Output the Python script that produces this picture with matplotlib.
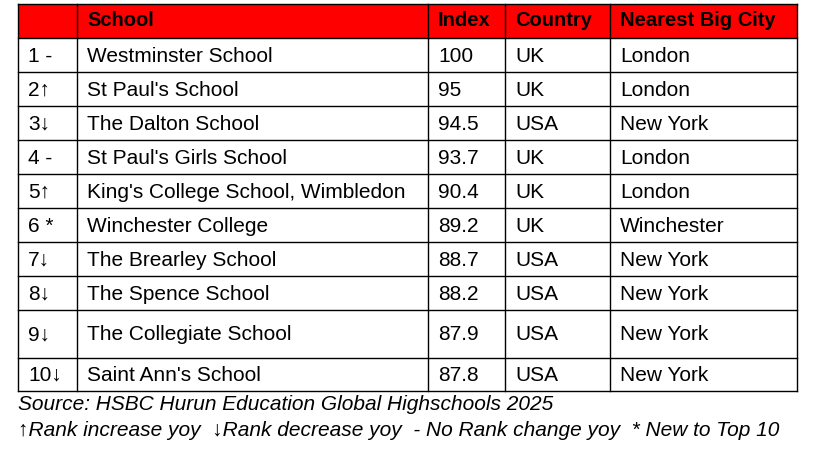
import matplotlib
matplotlib.use("Agg")
import matplotlib.pyplot as plt

ranks = ["1 -", "2↑", "3↓", "4 -", "5↑", "6 *", "7↓", "8↓", "9↓", "10↓"]
schools = ["Westminster School", "St Paul's School", "The Dalton School",
           "St Paul's Girls School", "King's College School, Wimbledon",
           "Winchester College", "The Brearley School", "The Spence School",
           "The Collegiate School", "Saint Ann's School"]
index = ["100", "95", "94.5", "93.7", "90.4", "89.2", "88.7", "88.2", "87.9", "87.8"]
country = ["UK", "UK", "USA", "UK", "UK", "UK", "USA", "USA", "USA", "USA"]
city = ["London", "London", "New York", "London", "London", "Winchester",
        "New York", "New York", "New York", "New York"]
headers = ["", "School", "Index", "Country", "Nearest Big City"]

W, H = 816, 453
fig = plt.figure(figsize=(W / 100, H / 100), dpi=100)
ax = fig.add_axes([0, 0, 1, 1])
ax.set_xlim(0, W)
ax.set_ylim(H, 0)
ax.axis("off")

FONT = ["Liberation Sans", "DejaVu Sans"]
FS = 15
col_x = [18, 77, 428, 505, 610, 797]
row_y = [4, 38, 72, 106, 140, 174, 208, 242, 276, 310, 358, 391]

ax.add_patch(plt.Rectangle((col_x[0], row_y[0]), col_x[-1] - col_x[0],
                           row_y[1] - row_y[0], color="#ff0000", lw=0))
for x in col_x:
    ax.plot([x, x], [row_y[0], row_y[-1]], color="black", lw=1)
for y in row_y:
    ax.plot([col_x[0], col_x[-1]], [y, y], color="black", lw=1)

for j, h in enumerate(headers):
    ax.text(col_x[j] + 10, (row_y[0] + row_y[1]) / 2, h, fontsize=FS - 0.5,
            fontweight="bold", va="center", ha="left", family=FONT)

for i in range(len(schools)):
    yc = (row_y[i + 1] + row_y[i + 2]) / 2 + 1
    for j, val in enumerate([ranks[i], schools[i], index[i], country[i], city[i]]):
        ax.text(col_x[j] + 10, yc, val, fontsize=FS, va="center", ha="left",
                family=FONT)

ax.text(18, 405, "Source: HSBC Hurun Education Global Highschools 2025",
        fontsize=FS, style="italic", va="center", family=FONT)
ax.text(18, 430, "↑Rank increase yoy  ↓Rank decrease yoy  - No Rank change yoy  * New to Top 10",
        fontsize=FS, style="italic", va="center", family=FONT)

fig.savefig("out.png", dpi=100)
